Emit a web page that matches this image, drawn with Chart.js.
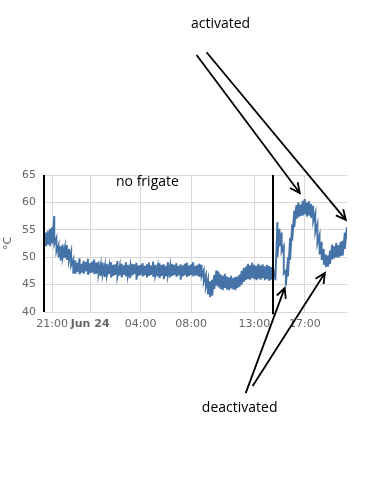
<!DOCTYPE html>
<html>
<head>
<meta charset="utf-8">
<script src="https://cdn.jsdelivr.net/npm/chart.js@4.4.0/dist/chart.umd.min.js"></script>
<style>
  body { margin: 0; background: #fff; }
  canvas { display: block; }
</style>
</head>
<body>
<canvas id="tempChart" width="365" height="500"></canvas>
<script>
// hours relative to midnight Jun 24, one min/max pair every 10 minutes from 20:20
const startHour = -3 - 40 / 60;
const stepMinutes = 10;
const upper = [
  54.0, 54.5, 54.8, 55.2, 55.5, 57.5, 53.5, 52.2, 52.0, 52.3, 51.8, 52.2, 51.5, 51.0, 49.6,
  49.4, 49.0, 49.8, 48.8, 49.3, 49.1, 49.7, 48.9, 49.2, 49.6, 49.0, 49.2,
  48.6, 49.0, 48.5, 48.8, 48.4, 49.1, 48.6, 48.7, 49.3, 48.3,
  48.8, 48.5, 49.1, 48.6, 48.4, 48.8, 48.7, 49.0, 48.5, 48.6,
  48.9, 48.4, 48.7, 49.0, 48.5, 49.2, 48.6, 48.3, 48.9, 48.6,
  48.7, 48.4, 49.1, 48.5, 48.8, 48.6, 48.9, 48.4, 48.7, 48.5,
  48.8, 49.0, 48.5, 48.7, 49.1, 48.4, 48.6, 48.8,
  48.6, 47.6, 46.8, 46.0, 45.6, 45.9, 46.8, 47.6, 47.4, 46.9,
  46.6, 47.0, 46.5, 46.3, 46.6, 46.2, 46.4, 46.5, 46.8, 47.5,
  48.0, 48.3, 48.8, 48.5, 49.0, 48.6, 48.4, 48.8, 48.5, 48.7,
  48.3, 48.6, 48.4, 48.2, 48.0, 47.5,
  56.4, 55.2, 54.5, 52.0, 47.5, 50.0, 53.5, 56.0, 58.5,
  59.5, 60.0, 59.6, 60.3, 60.6, 60.0, 60.2, 59.7, 59.4, 58.0,
  56.0, 54.0, 52.8, 51.5, 50.5, 50.3, 51.2, 52.3, 52.0, 52.6, 52.2, 52.8, 53.0, 54.5, 55.5
];
const lower = [
  51.8, 52.0, 52.3, 52.0, 52.5, 52.4, 51.0, 50.0, 49.4, 50.0, 49.9, 49.5, 49.3, 48.5, 47.0,
  47.0, 47.3, 46.9, 47.2, 47.0, 47.4, 46.8, 47.1, 47.2, 46.9, 47.0, 46.8,
  46.6, 46.8, 46.4, 46.7, 46.9, 46.3, 46.6, 46.8, 46.5, 46.7,
  46.3, 46.8, 46.5, 46.6, 46.2, 46.7, 46.9, 45.9, 46.6, 46.8,
  46.5, 46.7, 46.3, 46.6, 46.8, 46.4, 46.7, 46.5, 46.2, 46.6,
  46.0, 46.5, 46.7, 46.3, 46.6, 46.8, 46.4, 46.7, 45.9, 46.5,
  46.7, 46.4, 46.6, 46.8, 46.5, 46.7, 46.6, 46.4,
  46.5, 45.5, 44.5, 43.2, 42.7, 43.0, 44.2, 44.8, 44.5, 44.2,
  44.0, 44.4, 44.1, 44.0, 44.3, 44.1, 44.0, 44.4, 44.6, 45.0,
  45.5, 45.8, 46.0, 45.9, 46.2, 46.0, 45.8, 46.1, 45.9, 46.2,
  45.8, 46.0, 45.7, 45.9, 46.2, 45.8,
  50.0, 52.0, 51.0, 47.0, 44.8, 46.5, 49.5, 53.0, 55.5,
  57.0, 57.3, 57.5, 57.6, 57.8, 57.4, 57.6, 57.2, 56.5, 54.5,
  52.5, 50.5, 49.5, 48.6, 48.2, 48.3, 48.8, 49.6, 49.8, 50.0, 49.9, 50.2, 50.3, 51.5, 53.5
];

const tickValues = [-3, 0, 4, 8, 13, 17];
const tickLabels = ["21:00", "Jun 24", "04:00", "08:00", "13:00", "17:00"];
const boldTick = 0;

// annotations in chart units (hour, °C)
const markerLines = [-3.63, 14.46];
const notes = [
  { text: "no frigate", x: 4.54, y: 63.7 },
  { text: "activated", x: 10.33, y: 92.6 },
  { text: "deactivated", x: 11.84, y: 22.5 }
];
const arrows = [
  { from: [8.43, 86.9], to: [16.6, 61.7] },
  { from: [9.22, 87.4], to: [20.25, 56.8] },
  { from: [12.32, 25.2], to: [15.41, 44.4] },
  { from: [12.87, 26.5], to: [18.59, 47.1] }
];

const points = [];
upper.forEach((hi, i) => {
  const t = startHour + i * stepMinutes / 60;
  points.push({ x: t, y: hi }, { x: t, y: lower[i] });
});

function drawArrow(ctx, x1, y1, x2, y2) {
  const a = Math.atan2(y2 - y1, x2 - x1);
  const len = 11, spread = 0.45;
  ctx.beginPath();
  ctx.moveTo(x1, y1);
  ctx.lineTo(x2, y2);
  ctx.moveTo(x2 - len * Math.cos(a - spread), y2 - len * Math.sin(a - spread));
  ctx.lineTo(x2, y2);
  ctx.lineTo(x2 - len * Math.cos(a + spread), y2 - len * Math.sin(a + spread));
  ctx.stroke();
}

const annotations = {
  id: "annotations",
  afterDraw(chart) {
    const ctx = chart.ctx;
    const xs = chart.scales.x, ys = chart.scales.y;
    ctx.save();
    ctx.strokeStyle = "#000";
    ctx.lineWidth = 2;
    markerLines.forEach((h, i) => {
      const px = Math.round(xs.getPixelForValue(h));
      ctx.beginPath();
      ctx.moveTo(px, ys.getPixelForValue(65));
      ctx.lineTo(px, ys.getPixelForValue(i === 1 ? 39.6 : 40));
      ctx.stroke();
    });
    ctx.lineWidth = 1.8;
    arrows.forEach(a => {
      drawArrow(ctx,
        xs.getPixelForValue(a.from[0]), ys.getPixelForValue(a.from[1]),
        xs.getPixelForValue(a.to[0]), ys.getPixelForValue(a.to[1]));
    });
    ctx.fillStyle = "#000";
    ctx.font = "14px 'Open Sans'";
    ctx.textAlign = "center";
    ctx.textBaseline = "middle";
    notes.forEach(n => {
      ctx.fillText(n.text, xs.getPixelForValue(n.x), ys.getPixelForValue(n.y));
    });
    ctx.restore();
  }
};

new Chart(document.getElementById("tempChart"), {
  type: "line",
  data: {
    datasets: [{
      data: points,
      borderColor: "#4572a7",
      borderWidth: 1.9,
      pointRadius: 0,
      tension: 0,
      fill: false
    }]
  },
  options: {
    responsive: false,
    animation: false,
    layout: { padding: { top: 175, right: 18, left: 0, bottom: 0 } },
    plugins: { legend: { display: false }, tooltip: { enabled: false } },
    scales: {
      x: {
        type: "linear",
        min: -3.65,
        max: 20.34,
        afterBuildTicks: scale => { scale.ticks = tickValues.map(v => ({ value: v })); },
        afterFit: scale => { scale.height = 188; },
        grid: { color: "#d9d9d9", drawTicks: false },
        border: { display: false },
        ticks: {
          autoSkip: false,
          maxRotation: 0,
          padding: 6,
          color: "#666",
          font: ctx => ({ family: "DejaVu Sans", size: 11, weight: ctx.tick && ctx.tick.value === boldTick ? "bold" : "normal" }),
          callback: v => tickLabels[tickValues.indexOf(v)]
        }
      },
      y: {
        min: 40,
        max: 65,
        afterFit: scale => { scale.width = 44; },
        grid: { color: "#d9d9d9", drawTicks: false },
        border: { display: false },
        title: { display: true, text: "°C", color: "#555", padding: { top: 2, bottom: 0 }, font: { family: "DejaVu Sans", size: 11 } },
        ticks: { stepSize: 5, padding: 8, color: "#666", font: { family: "DejaVu Sans", size: 11 } }
      }
    }
  },
  plugins: [annotations]
});
</script>
</body>
</html>
